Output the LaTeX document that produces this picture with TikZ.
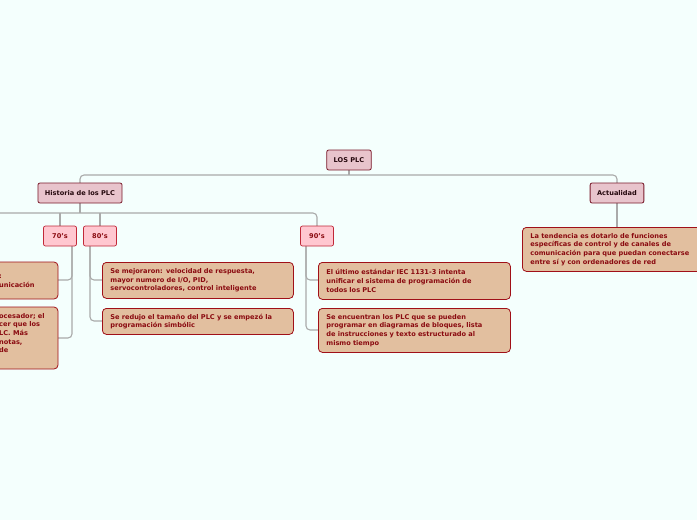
\documentclass[tikz,border=0pt]{standalone}
\usepackage{fontspec}
\setmainfont{DejaVu Sans}
\definecolor{bg}{HTML}{F4FFFD}
\definecolor{mainfill}{HTML}{E8C4CC}
\definecolor{mainline}{HTML}{7A1C2C}
\definecolor{yearfill}{HTML}{FFC7D0}
\definecolor{yearline}{HTML}{C02838}
\definecolor{leaffill}{HTML}{E2BF9F}
\definecolor{leafline}{HTML}{A01018}
\definecolor{leaftext}{HTML}{8A0A10}
\definecolor{linegray}{HTML}{AAAAAA}
\begin{document}
\begin{tikzpicture}[x=1pt,y=-1pt,
  font=\bfseries\fontsize{6.6}{8.6}\selectfont,
  conn/.style={draw=linegray,line width=1.1pt,rounded corners=4pt},
  mainbox/.style={draw=mainline,fill=mainfill,rounded corners=2pt,line width=0.8pt,text=black!70!mainline,minimum height=20pt,inner xsep=7pt},
  yearbox/.style={draw=yearline,fill=yearfill,rounded corners=2pt,line width=0.7pt,text=leaftext,minimum height=20pt,minimum width=33pt},
  leaf/.style={draw=leafline,fill=leaffill,rounded corners=4pt,line width=0.8pt,text=leaftext,align=left,anchor=north west,inner xsep=8pt,inner ysep=5pt}]
\fill[bg] (0,0) rectangle (697,520);
\useasboundingbox (0,0) rectangle (697,520);
\begin{scope}
\clip (0,0) rectangle (697,520);
\coordinate (off) at (-10,213);
\draw[conn] (349,170) -- (349,175);
\draw[conn] (80,183) -- (80,175) -- (617,175) -- (617,183);
\draw[conn] (80,203) -- (80,213);
\draw[conn] (off) -- (317,213) -- (317,226);
\draw[conn] (60,226) -- (60,213);
\draw[conn] (100,226) -- (100,213);
\draw[conn] (72,246) |- (58,280);
\draw[conn] (72,246) |- (58,338);
\draw[conn] (90,246) |- (102,280);
\draw[conn] (90,246) |- (102,321);
\draw[conn] (306,246) |- (318,280);
\draw[conn] (306,246) |- (318,330);
\draw[conn] (617,203) -- (617,227);
\node[mainbox] (root) at (349,160) {LOS PLC};
\node[mainbox] (hist) at (80,193) {Historia de los PLC};
\node[mainbox] (act) at (617,193) {Actualidad};
\node[yearbox] (y70) at (60,236) {70's};
\node[yearbox] (y80) at (100,236) {80's};
\node[yearbox] (y90) at (317,236) {90's};
\draw[leafline,fill=leaffill,rounded corners=4pt,line width=0.8pt] (-150,262) rectangle (58,299);
\node[anchor=north west,text=leaftext,align=left,inner sep=0pt] (l70a) at (-1,275) {:\\unicación};
\draw[leafline,fill=leaffill,rounded corners=4pt,line width=0.8pt] (-150,307) rectangle (58,369);
\node[anchor=north west,text=leaftext,align=left,inner sep=0pt] (l70b) at (-1,313) {ocesador; el\\cer que los\\LC. Más\\notas,\\ de};
\node[leaf,text width=175pt,minimum height=36pt] (l80a) at (102,262) {Se mejoraron: velocidad de respuesta,\\mayor numero de I/O, PID,\\servocontroladores, control inteligente};
\node[leaf,text width=175pt,minimum height=26pt] (l80b) at (102,308) {Se redujo el tamaño del PLC y se empezó la\\programación simbólic};
\node[leaf,text width=176pt,minimum height=37pt] (l90a) at (318,262) {El último estándar IEC 1131-3 intenta\\unificar el sistema de programación de\\todos los PLC};
\node[leaf,text width=176pt,minimum height=44pt] (l90b) at (318,308) {Se encuentran los PLC que se pueden\\programar en diagramas de bloques, lista\\de instrucciones y texto estructurado al\\mismo tiempo};
\node[leaf,text width=184pt,minimum height=44pt] (lact) at (522,227) {La tendencia es dotarlo de funciones\\específicas de control y de canales de\\comunicación para que puedan conectarse\\entre sí y con ordenadores de red};
\end{scope}
\end{tikzpicture}
\end{document}
